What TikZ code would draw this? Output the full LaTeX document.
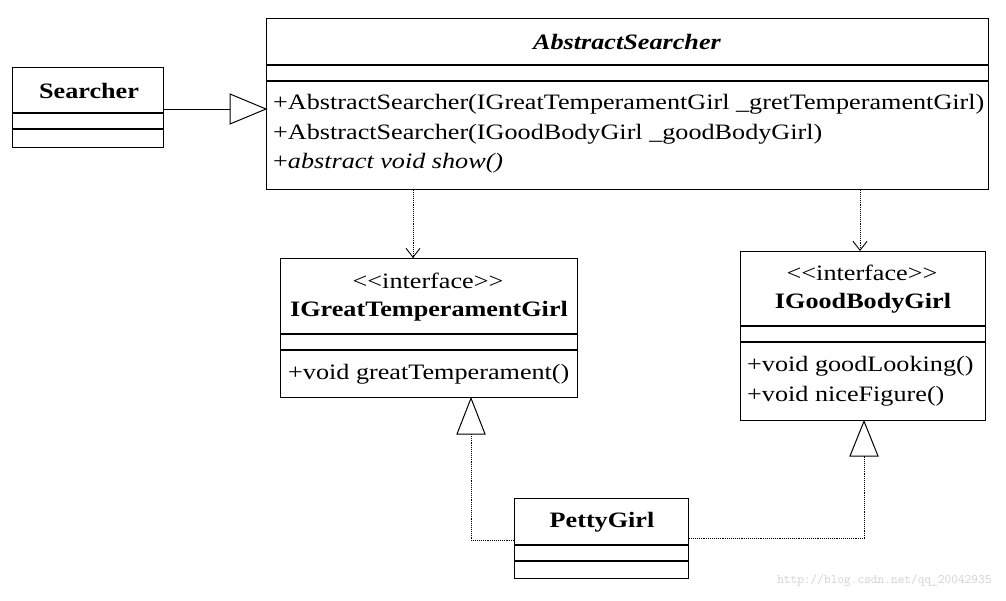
\documentclass[tikz,border=0pt]{standalone}
\usepackage{fontspec}
\setmainfont[FakeStretch=1.19]{Liberation Serif}
\usetikzlibrary{arrows.meta}
\begin{document}
\begin{tikzpicture}[x=1pt,y=-1pt,
  box/.style={draw,line width=1.2pt,rectangle,anchor=north west,inner sep=0pt},
  txt/.style={font=\fontsize{22}{26}\selectfont,inner sep=0pt},
  bt/.style={font=\fontsize{22}{26}\selectfont\bfseries,inner sep=0pt},
  dep/.style={densely dotted,line width=0.9pt,-{Straight Barb[length=9pt,width=14pt,line width=0.9pt]}},
  real/.style={densely dotted,line width=0.9pt},
  tri/.style={draw,line width=1pt,fill=white}]
\useasboundingbox (0,0) rectangle (1006,600);
% AbstractSearcher
\node[box,minimum width=722pt,minimum height=171pt] (as) at (266,18) {};
\draw[line width=1.2pt] (266,65) -- (988,65) (266,81) -- (988,81);
\node[bt,font=\fontsize{22}{26}\selectfont\bfseries\itshape] (ast) at (627,42) {AbstractSearcher};
\node[txt,anchor=west] (m1) at (273,104) {+AbstractSearcher(IGreatTemperamentGirl \_gretTemperamentGirl)};
\node[txt,anchor=west] (m2) at (273,134) {+AbstractSearcher(IGoodBodyGirl \_goodBodyGirl)};
\node[txt,anchor=west] (m3) at (273,163) {+\textit{abstract void show()}};
% Searcher
\node[box,minimum width=151pt,minimum height=80pt] (s) at (12,67) {};
\draw[line width=1.2pt] (12,113) -- (163,113) (12,129) -- (163,129);
\node[bt] (st) at (89,91) {Searcher};
% IGreatTemperamentGirl
\node[box,minimum width=297pt,minimum height=139pt] (ig) at (280,258) {};
\draw[line width=1.2pt] (280,334) -- (577,334) (280,350) -- (577,350);
\node[txt] (ig1) at (428,281) {<{}<interface>{}>};
\node[bt] (ig2) at (429,311) {IGreatTemperamentGirl};
\node[txt,anchor=west] (ig3) at (288,374) {+void greatTemperament()};
% IGoodBodyGirl
\node[box,minimum width=245pt,minimum height=169pt] (gb) at (740,251) {};
\draw[line width=1.2pt] (740,326) -- (985,326) (740,342) -- (985,342);
\node[txt] (gb1) at (862,273) {<{}<interface>{}>};
\node[bt] (gb2) at (863,303) {IGoodBodyGirl};
\node[txt,anchor=west] (gb3) at (747,366) {+void goodLooking()};
\node[txt,anchor=west] (gb4) at (747,396) {+void niceFigure()};
% PettyGirl
\node[box,minimum width=174pt,minimum height=80pt] (pg) at (514,498) {};
\draw[line width=1.2pt] (514,545) -- (688,545) (514,561) -- (688,561);
\node[bt] (pgt) at (602,522) {PettyGirl};
% connectors
\coordinate (t1) at (230,109);
\draw[line width=1pt] (s.east|-t1) -- (t1);
\draw[tri] (t1) -- (230,94) -- (as.west|-t1) -- (230,124) -- cycle;
\draw[dep] (as.south-|413,0) -- (ig.north-|413,0);
\draw[dep] (as.south-|860,0) -- (gb.north-|860,0);
\coordinate (r1) at (471,434);
\coordinate (r2) at (864,456);
\draw[real] (pg.west|-0,540) -| (r1);
\draw[tri] (r1) -- (457,434) -- (ig.south-|471,0) -- (485,434) -- cycle;
\draw[real] (pg.east|-0,538) -| (r2);
\draw[tri] (r2) -- (850,456) -- (gb.south-|864,0) -- (878,456) -- cycle;
\node[font=\ttfamily\fontsize{13}{15}\selectfont,text=black!18,anchor=east] (wm) at (995,580) {http://blog.csdn.net/qq\_20042935};
\end{tikzpicture}
\end{document}
